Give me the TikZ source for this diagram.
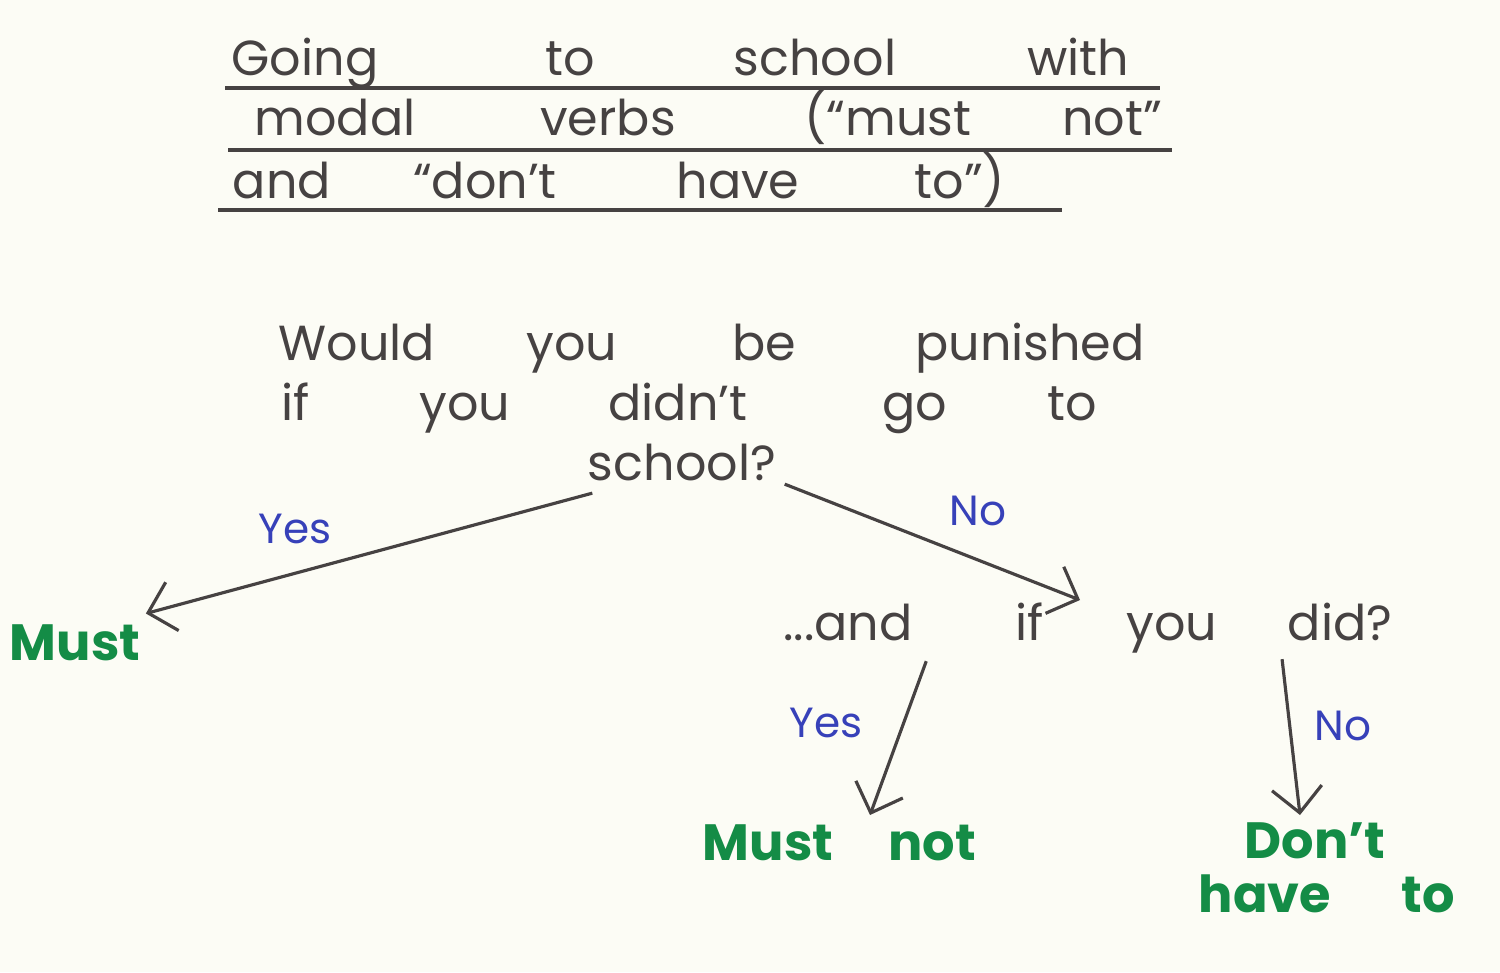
\documentclass[tikz,border=0pt]{standalone}
\usepackage{fontspec}
\setmainfont{Poppins}
\usetikzlibrary{arrows.meta,calc}
\definecolor{paper}{RGB}{252,252,245}
\definecolor{ink}{RGB}{70,66,66}
\definecolor{marker}{RGB}{20,140,70}
\definecolor{pen}{RGB}{55,65,185}
\tikzset{
  word/.style={anchor=base,inner sep=0pt,text=ink,font=\fontsize{14}{17}\selectfont},
  answer/.style={word,text=marker,font=\fontsize{14.5}{17}\selectfont\bfseries},
  choice/.style={word,text=pen,font=\fontsize{12}{14}\selectfont},
  branch/.style={draw=ink,line width=0.9pt,-{Straight Barb[length=2.5mm,width=5mm]}},
  rule/.style={draw=ink,line width=0.9pt}
}
\begin{document}
\begin{tikzpicture}[x=0.01cm,y=-0.01cm]
\fill[paper] (0,0) rectangle (1500,972);
\useasboundingbox (0,0) rectangle (1500,972);
% title
\node[word] (t1) at (305,75) {Going};
\node[word] (t2) at (570,75) {to};
\node[word] (t3) at (815,75) {school};
\node[word] (t4) at (1078,75) {with};
\node[word] (t5) at (335,135) {modal};
\node[word] (t6) at (608,135) {verbs};
\node[word] (t7) at (888,135) {(“must};
\node[word] (t8) at (1112,135) {not”};
\node[word] (t9) at (282,198) {and};
\node[word] (t10) at (485,198) {“don’t};
\node[word] (t11) at (738,198) {have};
\node[word] (t12) at (960,198) {to”)};
\draw[rule] (225,88) -- (1160,88);
\draw[rule] (228,150) -- (1172,150);
\draw[rule] (218,210) -- (1062,210);
% question
\node[word] (q1) at (357,360) {Would};
\node[word] (q2) at (572,360) {you};
\node[word] (q3) at (764,360) {be};
\node[word] (q4) at (1030,360) {punished};
\node[word] (q5) at (296,420) {if};
\node[word] (q6) at (465,420) {you};
\node[word] (q7) at (678,420) {didn’t};
\node[word] (q8) at (915,420) {go};
\node[word] (q9) at (1072,420) {to};
\node[word] (q10) at (682,480) {school?};
% second question
\node[word] (s1) at (848,640) {...and};
\node[word] (s2) at (1030,640) {if};
\node[word] (s3) at (1172,640) {you};
\node[word] (s4) at (1340,640) {did?};
% answers
\node[answer] (mst) at (75,660) {Must};
\node[answer] (mn1) at (768,860) {Must};
\node[answer] (mn2) at (932,860) {not};
\node[answer] (dh1) at (1315,858) {Don’t};
\node[answer] (dh2) at (1265,912) {have};
\node[answer] (dh3) at (1428,912) {to};
\node[choice] (y1) at (295,543) {Yes};
\node[choice] (n1) at (978,525) {No};
\node[choice] (y2) at (826,737) {Yes};
\node[choice] (n2) at (1343,740) {No};
\coordinate (e1) at (1080,600);
\coordinate (e2) at (870,815);
\coordinate (e3) at (1300,815);
\draw[branch] ($(q10.south west)+(5,12)$) -- ($(mst.north east)+(5,-10)$);
\draw[branch] ($(q10.south east)+(8,3)$) -- (e1);
\draw[branch] ($(s1.south east)+(13,20)$) -- (e2);
\draw[branch] ($(s4.south west)+(-5,18)$) -- (e3);
\end{tikzpicture}
\end{document}
